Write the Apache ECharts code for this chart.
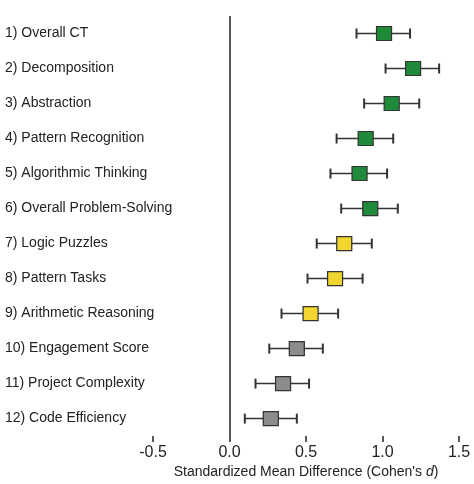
<!DOCTYPE html><html><head><meta charset="utf-8"><script src="https://cdn.jsdelivr.net/npm/echarts@6/dist/echarts.min.js"></script>
<style>html,body{margin:0;background:#fff}#c{width:474px;height:484px}</style></head><body><div id="c"></div><script>
const categories=["1) Overall CT","2) Decomposition","3) Abstraction","4) Pattern Recognition","5) Algorithmic Thinking","6) Overall Problem-Solving","7) Logic Puzzles","8) Pattern Tasks","9) Arithmetic Reasoning","10) Engagement Score","11) Project Complexity","12) Code Efficiency"];
const effect=[1.01,1.20,1.06,0.89,0.85,0.92,0.75,0.69,0.53,0.44,0.35,0.27];
const lower=[0.83,1.02,0.88,0.70,0.66,0.73,0.57,0.51,0.34,0.26,0.17,0.10];
const upper=[1.18,1.37,1.24,1.07,1.03,1.10,0.93,0.87,0.71,0.61,0.52,0.44];
const groupColor=["#1f8a3a","#1f8a3a","#1f8a3a","#1f8a3a","#1f8a3a","#1f8a3a","#f2d52e","#f2d52e","#f2d52e","#8c8c8c","#8c8c8c","#8c8c8c"];
const chart=echarts.init(document.getElementById('c'));
chart.setOption({animation:false,
grid:{left:153,right:15,top:16,bottom:41},
xAxis:{type:'value',min:-0.5,max:1.5,interval:0.5,
 axisLine:{lineStyle:{color:'#222',width:1.5}},axisTick:{show:true,length:6,lineStyle:{color:'#222',width:1.5}},
 splitLine:{show:false},
 axisLabel:{color:'#222',fontSize:16,fontFamily:'Liberation Sans',margin:8,formatter:v=>v.toFixed(1)},
 name:"{n|Standardized Mean Difference (Cohen's }{i|d}{n|)}",nameLocation:'middle',nameGap:28,
 nameTextStyle:{rich:{n:{fontSize:14,color:'#222',fontFamily:'Liberation Sans'},i:{fontSize:14,color:'#222',fontStyle:'italic',fontFamily:'Liberation Sans'}}}},
yAxis:{type:'category',data:categories,inverse:true,axisLine:{show:false},axisTick:{show:false},
 axisLabel:{align:'left',margin:148,fontSize:14,color:'#222',fontFamily:'Liberation Sans'}},
series:[
{type:'custom',renderItem:(p,api)=>{const y=api.value(0),lo=api.coord([api.value(1),y]),hi=api.coord([api.value(2),y]);const h=10;
 return {type:'group',children:[
 {type:'line',shape:{x1:lo[0],y1:lo[1],x2:hi[0],y2:hi[1]},style:{stroke:'#333',lineWidth:1.5}},
 {type:'line',shape:{x1:lo[0],y1:lo[1]-h/2,x2:lo[0],y2:lo[1]+h/2},style:{stroke:'#333',lineWidth:2}},
 {type:'line',shape:{x1:hi[0],y1:hi[1]-h/2,x2:hi[0],y2:hi[1]+h/2},style:{stroke:'#333',lineWidth:2}}]};},
 encode:{x:[1,2],y:0},data:categories.map((c,i)=>[i,lower[i],upper[i]]),z:2,
 markLine:{silent:true,symbol:'none',label:{show:false},lineStyle:{color:'#222',width:1.5,type:'solid'},data:[{xAxis:0}]}},
{type:'scatter',symbol:'rect',symbolSize:[15,14],z:3,
 data:effect.map((v,i)=>({value:[v,i],itemStyle:{color:groupColor[i],opacity:1,borderColor:'#333',borderWidth:1.2}}))}
]});
</script></body></html>
